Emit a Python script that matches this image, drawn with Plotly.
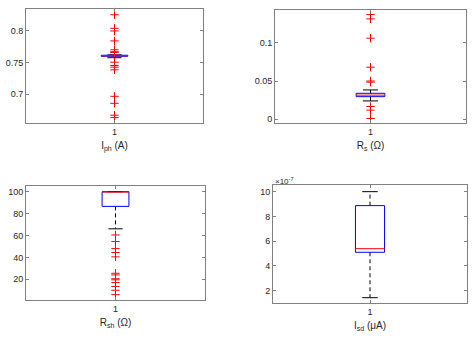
import plotly.graph_objects as go

# ---- data ----
# Panel 1: I_ph (A)
iph_stats = dict(lower=0.7575, q1=0.7597, median=0.7606, q3=0.7614, upper=0.7620)
iph_out = [0.825, 0.8037, 0.7995, 0.7839, 0.770, 0.767, 0.7656, 0.7505, 0.7453,
           0.7427, 0.7385, 0.6969, 0.6859, 0.6672, 0.6635]
# Panel 2: R_s (Ohm)
rs_stats = dict(lower=0.0239, q1=0.0295, median=0.0315, q3=0.0339, upper=0.0383)
rs_out = [0.137, 0.1314, 0.1061, 0.0681, 0.0500, 0.0485, 0.0166, 0.0118, 0.0009]
# Panel 3: R_sh (Ohm)
rsh_stats = dict(lower=66.1, q1=86.6, median=99.6, q3=100.0, upper=100.0)
rsh_out = [60.5, 54.5, 48.0, 44.5, 40.5, 25.5, 24.0, 20.5, 19.5, 17.0, 13.5, 10.0, 6.0]
# Panel 4: I_sd (uA)
isd_stats = dict(lower=1.41e-7, q1=5.09e-7, median=5.38e-7, q3=8.87e-7, upper=10.0e-7)
isd_out = []

x_cat = [1]
x_tick_labels = ["1"]
titles = ["I<sub>ph</sub> (A)", "R<sub>s</sub> (Ω)", "R<sub>sh</sub> (Ω)", "I<sub>sd</sub> (μA)"]
y_ticks = [[0.7, 0.75, 0.8], [0, 0.05, 0.1], [20, 40, 60, 80, 100],
           [2e-7, 4e-7, 6e-7, 8e-7, 10e-7]]
y_tick_labels = [["0.7", "0.75", "0.8"], ["0", "0.05", "0.1"],
                 ["20", "40", "60", "80", "100"], ["2", "4", "6", "8", "10"]]
y_ranges = [[0.655, 0.834], [-0.005, 0.143], [1.1, 105.2], [0.98e-7, 10.54e-7]]

panels = [(iph_stats, iph_out), (rs_stats, rs_out), (rsh_stats, rsh_out), (isd_stats, isd_out)]

# ---- style / layout ----
W, H = 474, 337
px_boxes = [  # left, right, top, bottom in pixels
    (26, 203, 9, 123),
    (275, 466, 10, 123),
    (26, 205, 186, 300),
    (273, 467, 185, 303),
]
BOX_HW = 0.075
CAP_HW = 0.04
FRAME = "#808080"
TXT = "#262626"
FONT = "Liberation Sans, Arial, sans-serif"

fig = go.Figure()
layout = dict(width=W, height=H, margin=dict(l=0, r=0, t=0, b=0),
              paper_bgcolor="white", plot_bgcolor="white", showlegend=False,
              font=dict(family=FONT, color=TXT, size=9))

for i, ((st, outl), (l, r, t, b)) in enumerate(zip(panels, px_boxes)):
    n = "" if i == 0 else str(i + 1)
    xa, ya = "x" + n, "y" + n
    xc = x_cat[0]
    # whiskers (dashed black)
    fig.add_trace(go.Scatter(x=[xc, xc, None, xc, xc],
                             y=[st["q3"], st["upper"], None, st["q1"], st["lower"]],
                             mode="lines", line=dict(color="black", width=1, dash="4px,3px"),
                             xaxis=xa, yaxis=ya, hoverinfo="skip"))
    # caps
    fig.add_trace(go.Scatter(x=[xc - CAP_HW, xc + CAP_HW, None, xc - CAP_HW, xc + CAP_HW],
                             y=[st["upper"], st["upper"], None, st["lower"], st["lower"]],
                             mode="lines", line=dict(color="black", width=1),
                             xaxis=xa, yaxis=ya, hoverinfo="skip"))
    # box
    fig.add_trace(go.Scatter(x=[xc - BOX_HW, xc + BOX_HW, xc + BOX_HW, xc - BOX_HW, xc - BOX_HW],
                             y=[st["q1"], st["q1"], st["q3"], st["q3"], st["q1"]],
                             mode="lines", line=dict(color="#0000ff", width=1),
                             xaxis=xa, yaxis=ya, hoverinfo="skip"))
    # median
    fig.add_trace(go.Scatter(x=[xc - BOX_HW, xc + BOX_HW], y=[st["median"], st["median"]],
                             mode="lines", line=dict(color="#ff0000", width=1),
                             xaxis=xa, yaxis=ya, hoverinfo="skip"))
    # outliers
    if outl:
        fig.add_trace(go.Scatter(x=[xc] * len(outl), y=outl, mode="markers",
                                 marker=dict(symbol="cross-thin", size=6,
                                             line=dict(color="#ff0000", width=1)),
                                 xaxis=xa, yaxis=ya))
    common = dict(showgrid=False, zeroline=False, showline=True, linecolor=FRAME,
                  linewidth=1, mirror="allticks", ticks="inside", ticklen=3,
                  tickcolor=FRAME, tickfont=dict(size=9, color=TXT, family=FONT))
    layout["xaxis" + n] = dict(domain=[l / W, r / W], range=[0.5, 1.5], anchor=ya,
                               tickvals=x_cat, ticktext=x_tick_labels,
                               title=dict(text=titles[i], standoff=6,
                                          font=dict(size=10, color=TXT, family=FONT)),
                               **common)
    layout["yaxis" + n] = dict(domain=[1 - b / H, 1 - t / H], range=y_ranges[i], anchor=xa,
                               tickvals=y_ticks[i], ticktext=y_tick_labels[i], **common)

layout["annotations"] = [dict(text="×10<sup>-7</sup>", xref="paper", yref="paper",
                              x=273 / W, y=1 - 181 / H, xanchor="left", yanchor="middle",
                              showarrow=False, font=dict(size=8, color=TXT, family=FONT))]
fig.update_layout(**layout)
fig.write_html("out.html")
